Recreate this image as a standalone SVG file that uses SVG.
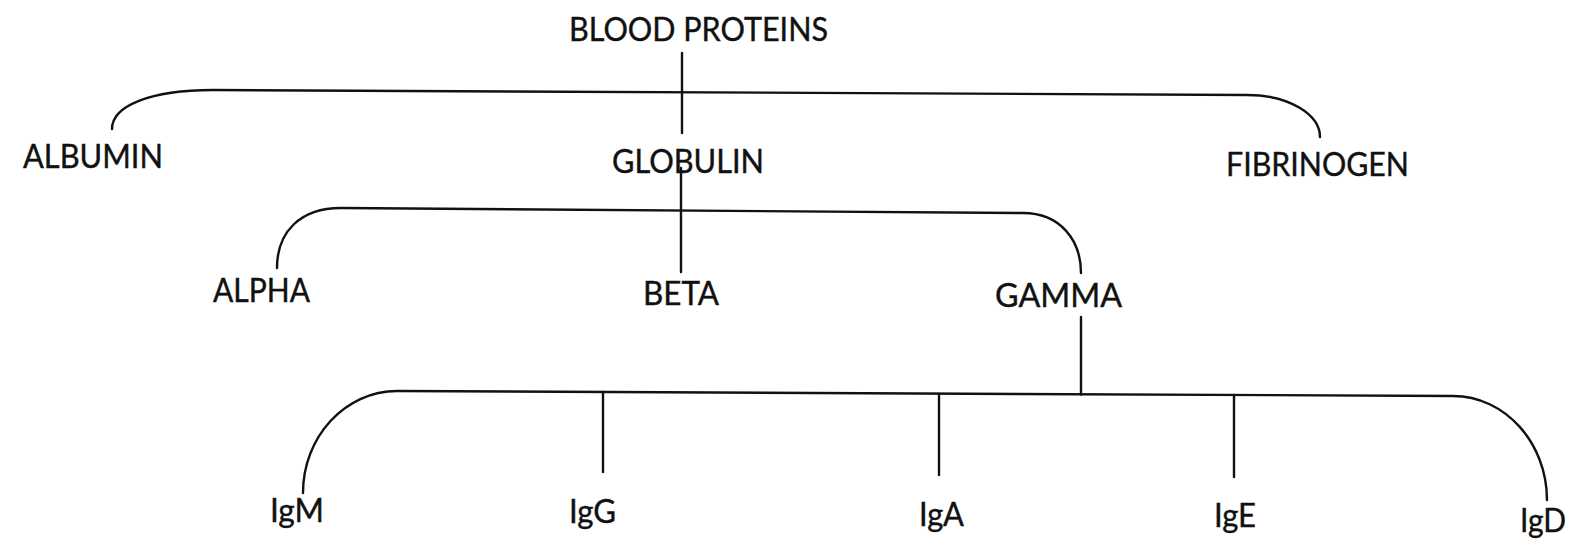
<svg xmlns="http://www.w3.org/2000/svg" width="1586" height="556" viewBox="0 0 1586 556">
<style>
.lbl{font-family:Lato,"Open Sans","Liberation Sans",sans-serif;font-size:32px;fill:#111;stroke:#111;stroke-width:0.4;text-anchor:middle}
.c{fill:none;stroke:#111;stroke-width:2.4;stroke-linecap:round}
</style>
<rect width="1586" height="556" fill="#fff"/>
<g id="connectors">
<path class="c" d="M682,53 V133"/>
<path class="c" d="M112,129 C112,106 150,90 213,90 L1247,95 C1290,95 1320,115 1320,137"/>
<path class="c" d="M681,168 V272"/>
<path class="c" d="M277,268 C277,232 300,208 341,208 L1023,213 C1060,213 1081,240 1081,273"/>
<path class="c" d="M1081,317 V394.5"/>
<path class="c" d="M303,493 C303,437 345,391 397,391 L1453,396 C1505,396 1547,443 1547,500"/>
<path class="c" d="M603,392 V472"/>
<path class="c" d="M939,394 V475"/>
<path class="c" d="M1234,395 V477"/>
</g>
<g id="blood-proteins"><text class="lbl" x="698.5" y="41" textLength="259" lengthAdjust="spacingAndGlyphs">BLOOD PROTEINS</text></g>
<g id="albumin"><text class="lbl" x="93" y="168" textLength="140" lengthAdjust="spacingAndGlyphs">ALBUMIN</text></g>
<g id="globulin"><text class="lbl" x="688" y="173" textLength="152" lengthAdjust="spacingAndGlyphs">GLOBULIN</text></g>
<g id="fibrinogen"><text class="lbl" x="1317.5" y="176" textLength="183" lengthAdjust="spacingAndGlyphs">FIBRINOGEN</text></g>
<g id="alpha"><text class="lbl" x="261.5" y="302" textLength="97" lengthAdjust="spacingAndGlyphs">ALPHA</text></g>
<g id="beta"><text class="lbl" x="681" y="305" textLength="76" lengthAdjust="spacingAndGlyphs">BETA</text></g>
<g id="gamma"><text class="lbl" x="1058.5" y="307" textLength="127" lengthAdjust="spacingAndGlyphs">GAMMA</text></g>
<g id="igm"><text class="lbl" x="297" y="522" textLength="54" lengthAdjust="spacingAndGlyphs">IgM</text></g>
<g id="igg"><text class="lbl" x="592.5" y="523" textLength="47" lengthAdjust="spacingAndGlyphs">IgG</text></g>
<g id="iga"><text class="lbl" x="941.5" y="526" textLength="45" lengthAdjust="spacingAndGlyphs">IgA</text></g>
<g id="ige"><text class="lbl" x="1235" y="527" textLength="42" lengthAdjust="spacingAndGlyphs">IgE</text></g>
<g id="igd"><text class="lbl" x="1543" y="532" textLength="46" lengthAdjust="spacingAndGlyphs">IgD</text></g>
</svg>
